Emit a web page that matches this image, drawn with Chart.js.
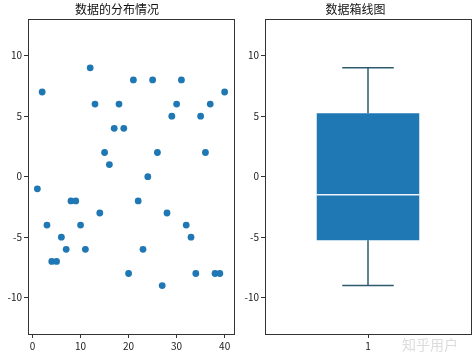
<!DOCTYPE html>
<html>
<head>
<meta charset="utf-8">
<script src="https://cdn.jsdelivr.net/npm/chart.js@4.4.1/dist/chart.umd.min.js"></script>
<style>
  body { margin: 0; background: #fff; }
  #wrap { position: relative; width: 474px; height: 355px; }
  #c1 { position: absolute; left: 0; top: 0; }
  #c2 { position: absolute; left: 240px; top: 0; }
  #mark { position: absolute; left: 402px; top: 334px; font: 14px "Noto Sans CJK SC"; color: rgba(205,205,205,0.7); }
</style>
</head>
<body>
<div id="wrap">
  <canvas id="c1" width="240" height="355"></canvas>
  <canvas id="c2" width="234" height="355"></canvas>
  <div id="mark">知乎用户</div>
</div>
<script>
// data
const xValues = [1, 2, 3, 4, 5, 6, 7, 8, 9, 10, 11, 12, 13, 14, 15, 16, 17, 18, 19, 20,
  21, 22, 23, 24, 25, 26, 27, 28, 29, 30, 31, 32, 33, 34, 35, 36, 37, 38, 39, 40];
const yValues = [-1, 7, -4, -7, -7, -5, -6, -2, -2, -4, -6, 9, 6, -3, 2, 1, 4, 6, 4, -8,
  8, -2, -6, 0, 8, 2, -9, -3, 5, 6, 8, -4, -5, -8, 5, 2, 6, -8, -8, 7];
const xTicks = [0, 10, 20, 30, 40];
const yTicks = [-10, -5, 0, 5, 10];
const boxTicks = [1];
const titles = ["数据的分布情况", "数据箱线图"];

const blue = "#1f77b4";
const dark = "#2e5a6e";
const font = "'Noto Sans CJK SC', 'DejaVu Sans', sans-serif";

// quartiles like numpy (linear)
function quantile(arr, q) {
  const s = [...arr].sort((a, b) => a - b);
  const pos = (s.length - 1) * q;
  const lo = Math.floor(pos);
  const hi = Math.ceil(pos);
  return s[lo] + (s[hi] - s[lo]) * (pos - lo);
}
const q1 = quantile(yValues, 0.25);
const q3 = quantile(yValues, 0.75);
const med = quantile(yValues, 0.5);
const iqr = q3 - q1;
const inside = yValues.filter(v => v >= q1 - 1.5 * iqr && v <= q3 + 1.5 * iqr);
const wLow = Math.min(...inside);
const wHigh = Math.max(...inside);

// frame around plot area like matplotlib
const framePlugin = {
  id: "frame",
  afterDraw(chart) {
    const a = chart.chartArea;
    const ctx = chart.ctx;
    ctx.save();
    ctx.strokeStyle = "#333";
    ctx.lineWidth = 1;
    ctx.strokeRect(Math.round(a.left) + 0.5, Math.round(a.top) + 0.5,
      Math.round(a.right - a.left), Math.round(a.bottom - a.top));
    ctx.restore();
  }
};

function axis(min, max, ticks, size, horizontal) {
  return {
    type: "linear",
    min: min,
    max: max,
    border: { display: false },
    grid: { drawOnChartArea: false, drawTicks: true, tickLength: 4, color: "#333" },
    ticks: { color: "#222", font: { family: font, size: 10 }, padding: 2, autoSkip: false },
    afterBuildTicks: (scale) => { scale.ticks = ticks.map(v => ({ value: v })); },
    afterFit: (scale) => { if (horizontal) scale.height = size; else scale.width = size; }
  };
}

function titleOpts(text) {
  return {
    display: true,
    text: text,
    color: "#111",
    font: { family: font, size: 12, weight: "normal" },
    padding: { top: 2, bottom: 3 }
  };
}

new Chart(document.getElementById("c1"), {
  type: "scatter",
  data: {
    datasets: [{
      data: xValues.map((x, i) => ({ x: x, y: yValues[i] })),
      backgroundColor: blue,
      borderWidth: 0,
      pointRadius: 3.4
    }]
  },
  options: {
    responsive: false,
    animation: false,
    layout: { padding: { left: 0, right: 6, top: 0, bottom: 0 } },
    plugins: { legend: { display: false }, tooltip: { enabled: false }, title: titleOpts(titles[0]) },
    scales: {
      x: axis(-0.95, 41.95, xTicks, 21, true),
      y: axis(-13, 13, yTicks, 28, false)
    }
  },
  plugins: [framePlugin]
});

function seg(x0, y0, x1, y1) {
  return [{ x: x0, y: y0 }, { x: x1, y: y1 }];
}

new Chart(document.getElementById("c2"), {
  type: "scatter",
  data: {
    datasets: [
      { data: seg(0.75, med, 1.25, med), borderColor: "#eef4f8", borderWidth: 1.5 },
      { data: seg(1, q3, 1, wHigh), borderColor: dark, borderWidth: 1.5 },
      { data: seg(1, q1, 1, wLow), borderColor: dark, borderWidth: 1.5 },
      { data: seg(0.875, wHigh, 1.125, wHigh), borderColor: dark, borderWidth: 1.5 },
      { data: seg(0.875, wLow, 1.125, wLow), borderColor: dark, borderWidth: 1.5 },
      { data: seg(0.75, q3, 1.25, q3), borderWidth: 0, borderColor: blue,
        backgroundColor: blue, fill: { value: q1 } }
    ].map(d => Object.assign({ showLine: true, pointRadius: 0 }, d))
  },
  options: {
    responsive: false,
    animation: false,
    layout: { padding: { left: 0, right: 3, top: 0, bottom: 0 } },
    plugins: { legend: { display: false }, tooltip: { enabled: false }, title: titleOpts(titles[1]) },
    scales: {
      x: axis(0.5, 1.5, boxTicks, 21, true),
      y: axis(-13, 13, yTicks, 25, false)
    }
  },
  plugins: [framePlugin]
});
</script>
</body>
</html>
